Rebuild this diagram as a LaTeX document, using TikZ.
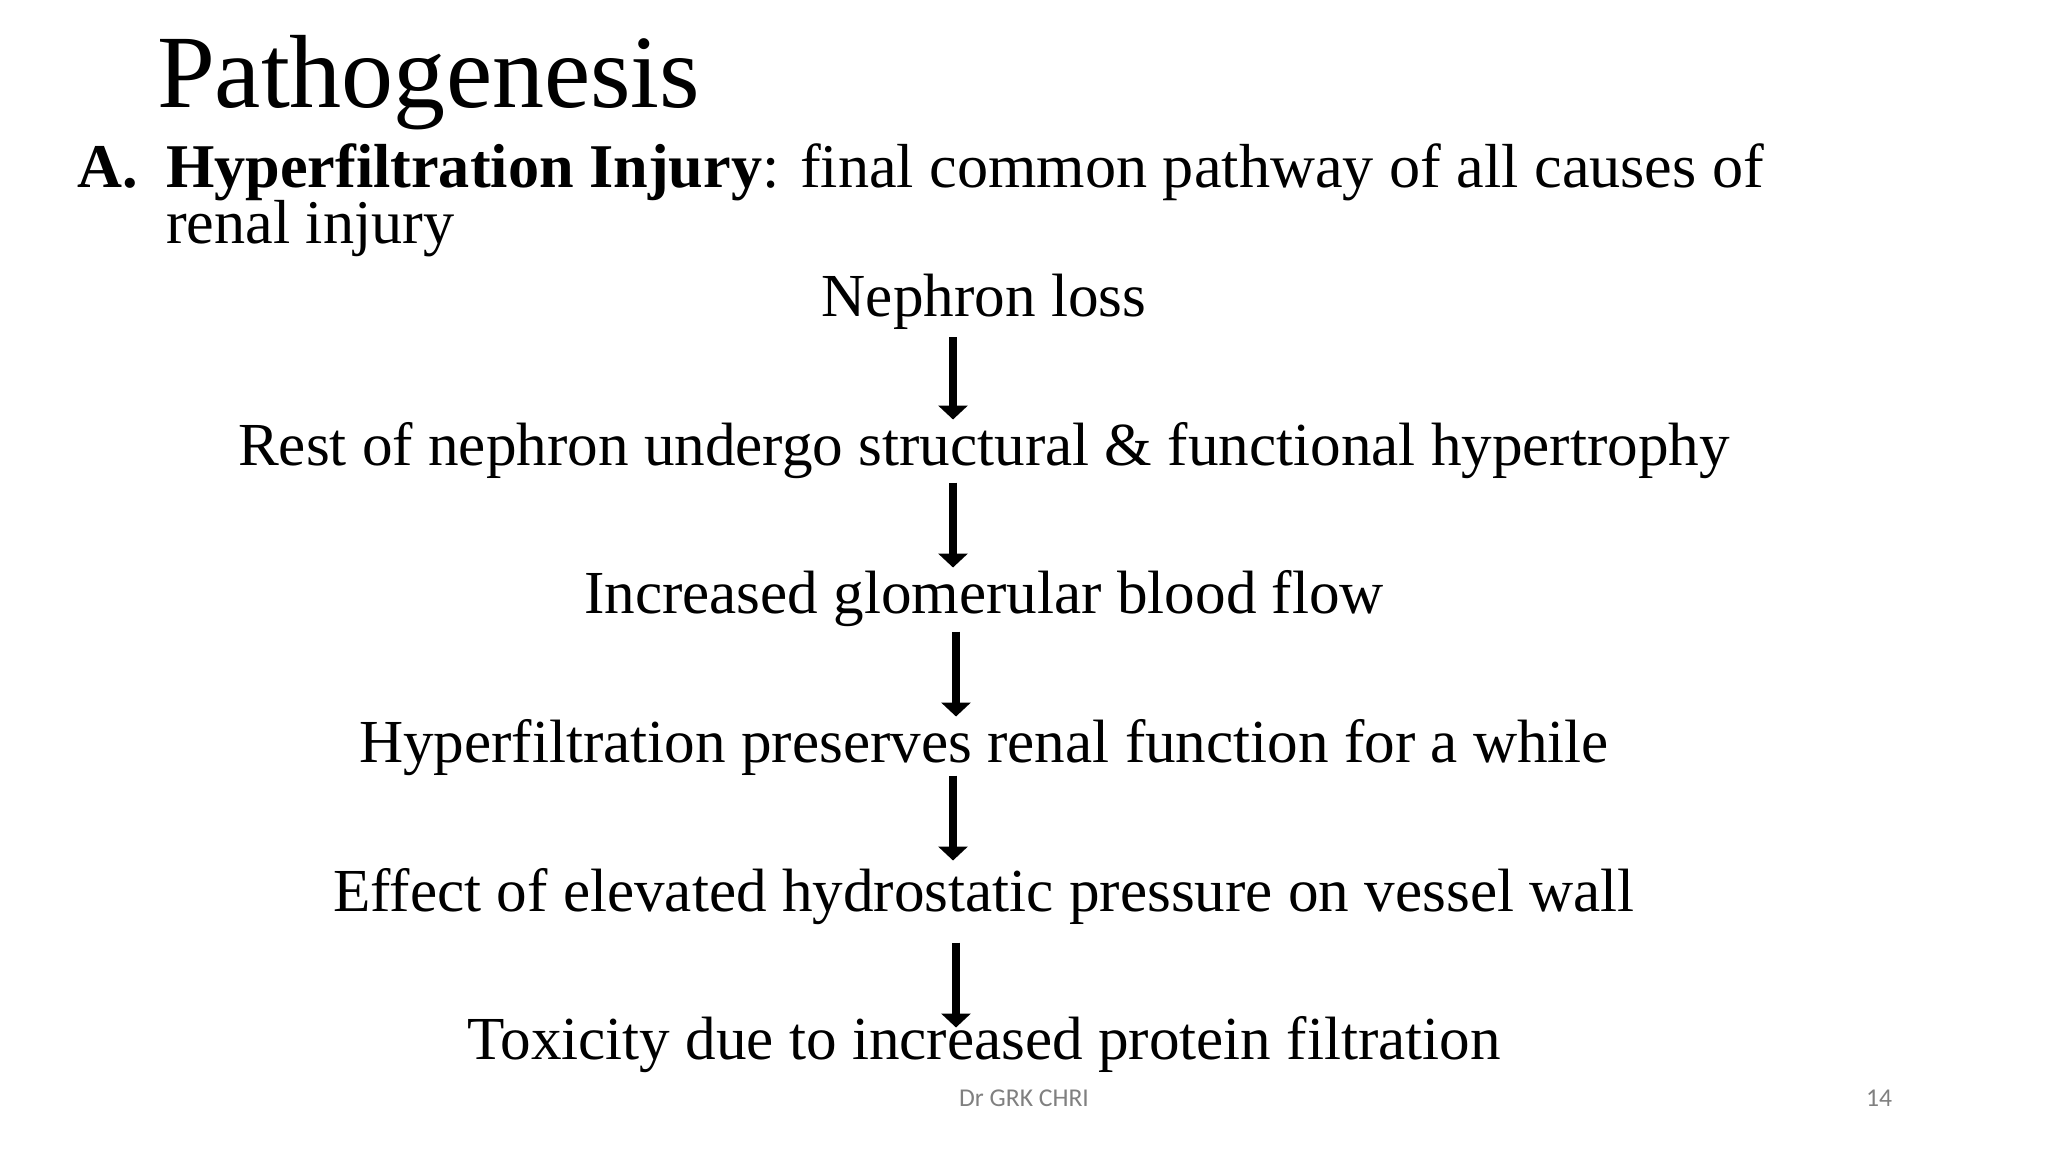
\documentclass[tikz,border=0pt]{standalone}
\usepackage{fontspec}
\setmainfont{Liberation Serif}
\newfontfamily\footfont{Carlito}
\usetikzlibrary{positioning,arrows.meta}

\begin{document}
\begin{tikzpicture}[x=1mm,y=1mm,
  every node/.style={inner sep=0pt,outer sep=0pt},
  stepline/.style={font=\fontsize{17.4}{21}\selectfont,anchor=base},
  headline/.style={font=\fontsize{17.7}{21}\selectfont,anchor=base west},
  flowarrow/.style={line width=0.8mm,-{Triangle[width=2.9mm,length=1.4mm]}},
  footnote/.style={font=\footfont\fontsize{7.3}{9}\selectfont,text=black!50,anchor=base}]
\useasboundingbox (0,0) rectangle (204.8,-115.2);

\node[anchor=base west,font=\fontsize{29.6}{34}\selectfont] (title) at (15.7,-10.7) {Pathogenesis};
\node[headline,font=\fontsize{17.7}{21}\selectfont\bfseries] (itemA) at (7.8,-18.7) {A.};
\node[headline] (head) at (16.6,-18.7) {\textbf{Hyperfiltration Injury}: final common pathway of all causes of};
\node[below=5.6mm of head.base west,headline] (head2) {renal injury};

% chain of events
\node[stepline] (loss) at (98.4,-31.6) {Nephron loss};
\node[below=14.95mm of loss.base,stepline] (rest) {Rest of nephron undergo structural \& functional hypertrophy};
\node[below=14.8mm of rest.base,stepline] (flow) {Increased glomerular blood flow};
\node[below=14.9mm of flow.base,stepline] (preserve) {Hyperfiltration preserves renal function for a while};
\node[below=14.9mm of preserve.base,stepline] (pressure) {Effect of elevated hydrostatic pressure on vessel wall};
\node[below=14.8mm of pressure.base,stepline] (toxic) {Toxicity due to increased protein filtration};

\draw[flowarrow] ([xshift=-3.1mm,yshift=-2.1mm]loss.base) -- ([xshift=-3.1mm,yshift=4.6mm]rest.base);
\draw[flowarrow] ([xshift=-3.1mm,yshift=-1.7mm]rest.base) -- ([xshift=-3.1mm,yshift=4.6mm]flow.base);
\draw[flowarrow] ([xshift=-2.8mm,yshift=-1.8mm]flow.base) -- ([xshift=-2.8mm,yshift=4.6mm]preserve.base);
\draw[flowarrow] ([xshift=-3.1mm,yshift=-1.3mm]preserve.base) -- ([xshift=-3.1mm,yshift=5.1mm]pressure.base);
\draw[flowarrow] ([xshift=-2.8mm,yshift=-3.1mm]pressure.base) -- ([xshift=-2.8mm,yshift=3.2mm]toxic.base);

\node[footnote] (author) at (102.4,-110.6) {Dr GRK CHRI};
\node[footnote] (pagenum) at (187.9,-110.6) {14};
\end{tikzpicture}
\end{document}
